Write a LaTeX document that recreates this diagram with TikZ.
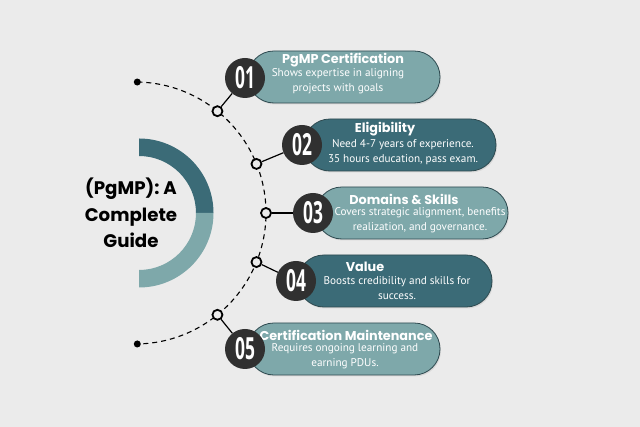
\documentclass[tikz,border=0pt]{standalone}
\usepackage{fontspec}
\setmainfont{PT Sans}
\newfontfamily\headfont{Poppins}
\newfontfamily\numfont{Open Sans}
\usepackage{graphicx}
\usetikzlibrary{calc,shadows,positioning}
\definecolor{bggray}{HTML}{EBEBEB}
\definecolor{tealD}{HTML}{3B6B77}
\definecolor{tealL}{HTML}{7EA8AA}
\definecolor{pilledge}{HTML}{2E4A50}
\definecolor{discgray}{HTML}{303030}
\newcommand{\numtxt}[1]{\scalebox{0.6}[1.05]{#1}}

\begin{document}
\begin{tikzpicture}[x=1pt, y=1pt,
  pill/.style={draw=pilledge, line width=0.8pt, rounded corners=25.9pt,
               minimum width=#1, minimum height=52pt,
               drop shadow={opacity=0.18, shadow xshift=1pt, shadow yshift=-1.5pt}},
  numdisc/.style={circle, fill=discgray, minimum size=40pt, inner sep=0pt,
                  text=white, font=\numfont\bfseries\fontsize{29}{29}\selectfont},
  ring/.style={circle, draw=black, line width=1.8pt, fill=bggray,
               minimum size=10pt, inner sep=0pt},
  enddot/.style={circle, fill=black, minimum size=7pt, inner sep=0pt},
  title/.style={text=white, font=\headfont\bfseries\fontsize{12.8}{13}\selectfont},
  body/.style={text=white, align=center, font=\fontsize{11.2}{14.5}\selectfont},
  link/.style={line width=1.2pt, black}
]
\useasboundingbox (0,0) rectangle (640,427);
\fill[bggray] (0,0) rectangle (640,427);

% --- half ring with title ---
\coordinate (c) at (139,214);
\fill[tealD] (c) ++(90:74.5) arc (90:0:74.5) -- ++(-17.5,0) arc (0:90:57) -- cycle;
\fill[tealL] (c) ++(0:74.5) arc (0:-90:74.5) -- ++(0,17.5) arc (-90:0:57) -- cycle;
\node[font=\headfont\bfseries\fontsize{18.2}{26.5}\selectfont, align=center] (guide)
  at (131,214) {(PgMP): A\\Complete\\Guide};

% --- pills ---
\node[pill=192pt, fill=tealL] (p1) at (344,350) {};
\node[pill=192pt, fill=tealD] (p2) at (400,282) {};
\node[pill=192pt, fill=tealL] (p3) at (412,214) {};
\node[pill=194pt, fill=tealD] (p4) at (395,146) {};
\node[pill=192pt, fill=tealL] (p5) at (344,78) {};

% --- texts ---
\node[title] (t1) at (343,367) {PgMP Certification};
\node[body]  (b1) at (338,346) {Shows expertise in aligning\\projects with goals};
\node[title] (t2) at (385,298) {Eligibility};
\node[body]  (b2) at (403,275) {Need 4-7 years of experience.\\35 hours education, pass exam.};
\node[title] (t3) at (404,228) {Domains \& Skills};
\node[body]  (b3) at (420,207) {Covers strategic alignment, benefits\\realization, and governance.};
\node[title] (t4) at (365,160) {Value};
\node[body]  (b4) at (397,139) {Boosts credibility and skills for\\success.};
\node[title] (t5) at (346,92) {Certification Maintenance};
\node[body]  (b5) at (345,71) {Requires ongoing learning and\\earning PDUs.};

% --- number discs ---
\node[numdisc] (n1) at (245,349) {\numtxt{01}};
\node[numdisc] (n2) at (302,282) {\numtxt{02}};
\node[numdisc] (n3) at (313,214) {\numtxt{03}};
\node[numdisc] (n4) at (296,146) {\numtxt{04}};
\node[numdisc] (n5) at (245,78) {\numtxt{05}};

% --- dashed arc ---
\coordinate (ac) at (135,214);
\draw[line width=1.1pt, dash pattern=on 5pt off 4pt] (ac) ++(89:131) arc (89:-89:131);
\node[enddot] (d1) at ($(ac)+(89:131)$) {};
\node[enddot] (d2) at ($(ac)+(-89:131)$) {};

\foreach \a/\i in {51/1, 22/2, 0/3, -22/4, -51/5} {
  \node[ring] (s\i) at ($(ac)+(\a:131)$) {};
  \draw[link] (s\i) -- (n\i);
}

\end{tikzpicture}
\end{document}
